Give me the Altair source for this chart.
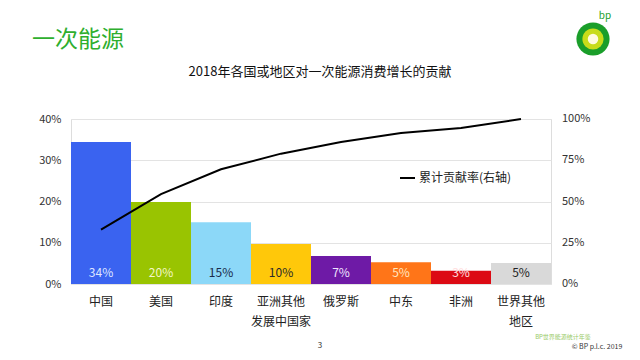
import altair as alt
import pandas as pd

categories = ["中国", "美国", "印度", "亚洲其他\n发展中国家", "俄罗斯", "中东", "非洲", "世界其他\n地区"]
shares = [0.344, 0.199, 0.150, 0.097, 0.068, 0.053, 0.032, 0.051]
share_labels = ["34%", "20%", "15%", "10%", "7%", "5%", "3%", "5%"]
cumulative = [0.33, 0.545, 0.695, 0.79, 0.86, 0.915, 0.945, 1.0]
bar_colors = ["#3a63f0", "#99c401", "#8cd8f8", "#ffc80a", "#6e1aa6", "#ff7518", "#dc0a14", "#d9d9d9"]
label_colors = ["#dfe6ff", "#f4f6c8", "#1a2a4a", "#2a2a2a", "#f0e6ff", "#ffe8c0", "#ffe0e0", "#222222"]
right_ticks = [0, 0.25, 0.5, 0.75, 1.0]
right_tick_labels = ["0%", "25%", "50%", "75%", "100%"]

FONT = "Noto Sans CJK SC"
RATIO = 0.4  # left axis max / right axis max

df = pd.DataFrame({
    "cat": categories,
    "share": shares,
    "lab": share_labels,
    "cum": cumulative,
    "bc": bar_colors,
    "lc": label_colors,
})
rdf = pd.DataFrame({"v": right_ticks, "t": right_tick_labels})

xenc = alt.X("cat:N", sort=categories,
             scale=alt.Scale(paddingInner=0, paddingOuter=0),
             axis=alt.Axis(title=None, labelExpr="split(datum.value, '\\n')",
                           labelAngle=0, domain=False, ticks=False, grid=False,
                           labelFontSize=12, labelColor="#222", labelPadding=12,
                           labelLineHeight=20, labelFont=FONT))

yscale = alt.Scale(domain=[0, 0.4])

base = alt.Chart(df)

bars = base.mark_bar().encode(
    x=xenc,
    y=alt.Y("share:Q", scale=yscale,
            axis=alt.Axis(title=None, format=".0%", values=[0, 0.1, 0.2, 0.3, 0.4],
                          domain=False, ticks=False, labelPadding=10,
                          labelFontSize=11, labelColor="#333", labelFont=FONT,
                          gridColor="#e3e3e3", grid=True)),
    color=alt.Color("bc:N", scale=None),
)

bar_text = base.mark_text(fontSize=12, font=FONT, baseline="middle").encode(
    x=alt.X("cat:N", sort=categories),
    y=alt.value(154),
    text="lab:N",
    color=alt.Color("lc:N", scale=None),
)

line = base.transform_calculate(cy=f"datum.cum * {RATIO}").mark_line(
    color="black", strokeWidth=2).encode(
    x=alt.X("cat:N", sort=categories),
    y=alt.Y("cy:Q", scale=yscale),
)

right_labels = alt.Chart(rdf).transform_calculate(vy=f"datum.v * {RATIO}").mark_text(
    align="left", baseline="middle", fontSize=11, font=FONT, color="#333").encode(
    x=alt.value(491),
    y=alt.Y("vy:Q", scale=yscale),
    text="t:N",
)

ann = pd.DataFrame({"d": [0]})
a = alt.Chart(ann)

legend_rule = a.mark_rule(color="black", strokeWidth=2).encode(
    x=alt.value(329), x2=alt.value(344), y=alt.value(59))
legend_text = a.mark_text(align="left", baseline="middle", fontSize=12, font=FONT, color="#222").encode(
    x=alt.value(348), y=alt.value(59), text=alt.value("累计贡献率(右轴)"))
title_text = a.mark_text(align="left", baseline="middle", fontSize=23, font=FONT, color="#2eae2e").encode(
    x=alt.value(-39), y=alt.value(-79), text=alt.value("一次能源"))
sub_text = a.mark_text(align="center", baseline="middle", fontSize=13, font=FONT, color="#111").encode(
    x=alt.value(249), y=alt.value(-47), text=alt.value("2018年各国或地区对一次能源消费增长的贡献"))
page_text = a.mark_text(align="center", baseline="middle", fontSize=8, font=FONT, color="#333").encode(
    x=alt.value(249), y=alt.value(227), text=alt.value("3"))
src_text = a.mark_text(align="center", baseline="middle", fontSize=6, font=FONT, color="#9acb6a").encode(
    x=alt.value(492), y=alt.value(218), text=alt.value("BP世界能源统计年鉴"))
copy_text = a.mark_text(align="center", baseline="middle", fontSize=7, font=FONT, color="#333").encode(
    x=alt.value(526), y=alt.value(228), text=alt.value("© BP p.l.c. 2019"))
logo_g = a.mark_point(shape="circle", filled=True, color="#1a9e2a", size=1100, opacity=1).encode(
    x=alt.value(522), y=alt.value(-80))
logo_y = a.mark_point(shape="circle", filled=True, color="#c8dc1a", size=450, opacity=1).encode(
    x=alt.value(522), y=alt.value(-80))
logo_w = a.mark_point(shape="circle", filled=True, color="#fffbe0", size=110, opacity=1).encode(
    x=alt.value(522), y=alt.value(-80))
logo_t = a.mark_text(align="center", baseline="middle", fontSize=10, font=FONT, color="#1a9e2a").encode(
    x=alt.value(534), y=alt.value(-103), text=alt.value("bp"))

chart = alt.layer(
    bars, bar_text, line, right_labels,
    legend_rule, legend_text, title_text, sub_text, page_text, src_text, copy_text,
    logo_g, logo_y, logo_w, logo_t,
).properties(
    width=480, height=165,
    autosize=alt.AutoSizeParams(type="none"),
    padding={"left": 63, "top": 111, "right": 81, "bottom": 68},
).configure_view(stroke=None).configure_axis(
    domain=False, ticks=False
).configure_axisX(grid=False).configure(background="white")

chart.save("out.html", embed_options={"renderer": "svg", "actions": False})
